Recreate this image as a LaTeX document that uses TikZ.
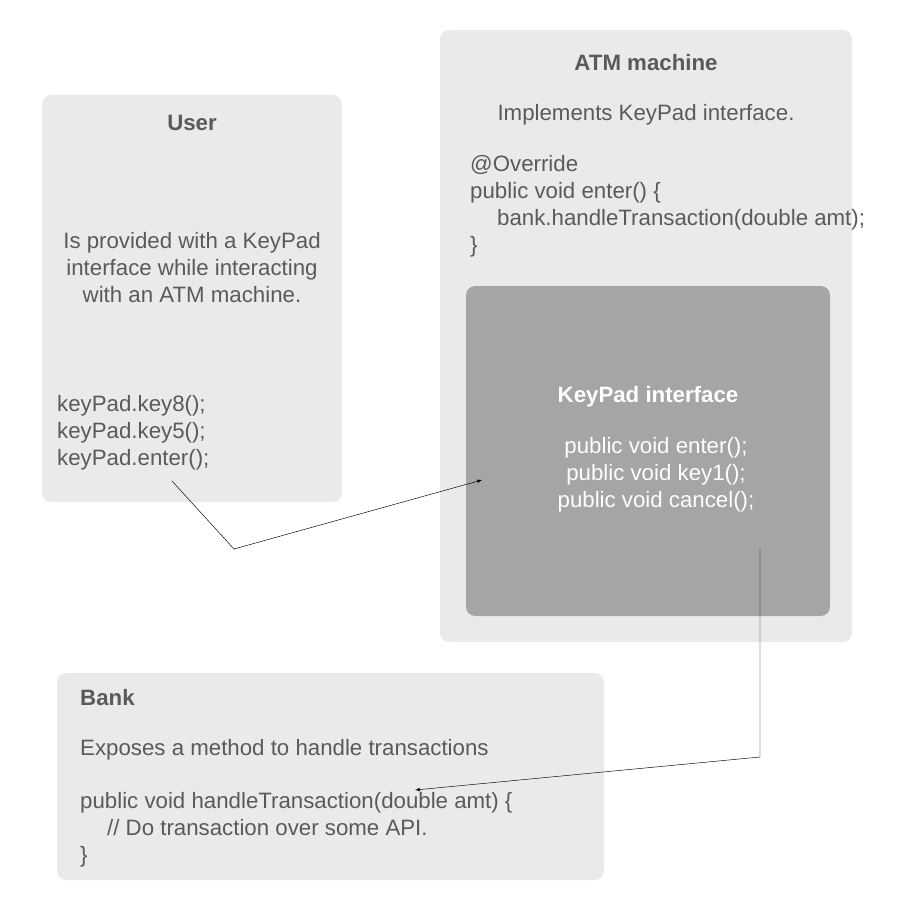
\documentclass[tikz,border=0pt]{standalone}
\usepackage{fontspec}
\setmainfont{Liberation Sans}
\usetikzlibrary{arrows}
\definecolor{boxgray}{RGB}{233,234,236}
\definecolor{keygray}{RGB}{166,164,165}
\definecolor{txtgray}{RGB}{90,90,90}
\begin{document}
\begin{tikzpicture}[x=0.03cm,y=-0.03cm,>=latex,
  panel/.style={fill=boxgray,rounded corners=8pt,draw=none},
  txt/.style={text=txtgray,font=\fontsize{19}{23}\selectfont,inner sep=0pt},
  head/.style={txt,font=\fontsize{19}{23}\selectfont\bfseries}]
		\useasboundingbox (0,0) rectangle (900,900);
		% the boxes
		\fill[panel] (42,95) rectangle (342,502);
		\fill[panel] (440,30) rectangle (852,642);
		\fill[keygray,rounded corners=8pt] (466,286) rectangle (830,616);
		\fill[panel] (57,673) rectangle (604,880);
		
		% user
		\node[head] (user) at (192,123) {User};
		\node[txt,align=center,anchor=north] (usertxt) at (192,232) {Is provided with a KeyPad\\interface while interacting\\with an ATM machine.};
		\node[txt,align=left,anchor=north west] (usercode) at (57,395) {keyPad.key8();\\keyPad.key5();\\keyPad.enter();};
		
		% atm
		\node[head] (atm) at (646,63) {ATM machine};
		\node[txt] (atmtxt) at (646,115) {Implements KeyPad interface.};
		\node[txt,align=left,anchor=north west] (atmcode) at (470,155) {@Override\\public void enter() \{\\\hspace*{23pt}bank.handleTransaction(double amt);\\\}};
		
		% keypad
		\node[head,text=white] (keypad) at (648,397) {KeyPad interface};
		\node[txt,text=white,align=center,anchor=north] (keytxt) at (656,437) {public void enter();\\public void key1();\\public void cancel();};
		
		% bank
		\node[head,anchor=west] (bank) at (80,698) {Bank};
		\node[txt,anchor=west] (banktxt) at (80,750) {Exposes a method to handle transactions};
		\node[txt,align=left,anchor=north west] (bankcode) at (80,792) {public void handleTransaction(double amt) \{\\\hspace*{23pt}// Do transaction over some API.\\\}};
		
		% the arrows
		\coordinate (a1) at (172,481);
		\coordinate (a2) at (234,549);
		\coordinate (a3) at (482,480);
		\coordinate (b1) at (760,548);
		\coordinate (b2) at (760,757);
		\coordinate (b3) at (415,790);
		\draw[-{latex[scale=1.6]},thin] (a1) -- (a2) -- (a3);
		\draw[-{latex[scale=1.6]},thin] (b1) -- (b2) -- (b3);
\end{tikzpicture}
\end{document}
